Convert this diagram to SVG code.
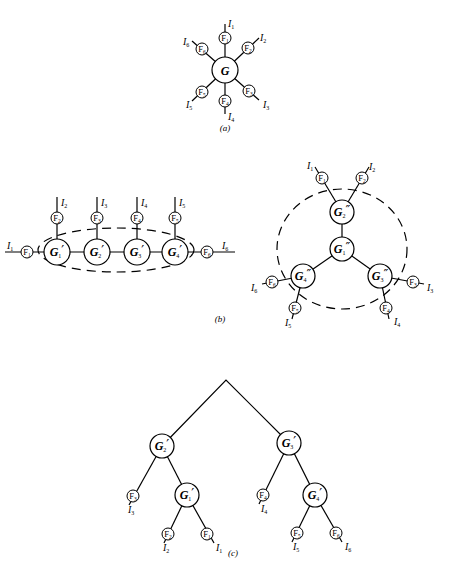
<svg xmlns="http://www.w3.org/2000/svg" width="474" height="578" viewBox="0 0 474 578">
<style>
.ln{stroke:#000;stroke-width:1.2;fill:none}
.dash{stroke:#000;stroke-width:1.2;fill:none;stroke-dasharray:9 6}
.g{fill:#fff;stroke:#000;stroke-width:1.2}
.f{fill:#fff;stroke:#000;stroke-width:1}
.gt{font-family:"Liberation Serif",serif;font-style:italic;font-weight:bold;font-size:12px;text-anchor:middle;fill:#000}
.ft{font-family:"Liberation Serif",serif;font-size:8.5px;text-anchor:middle;fill:#000}
.it{font-family:"Liberation Serif",serif;font-style:italic;font-size:10px;fill:#000}
.cap{font-family:"Liberation Serif",serif;font-style:italic;font-size:9px;text-anchor:middle;fill:#000}
.s{font-size:6px;font-style:normal;font-weight:normal}
.p{font-family:"DejaVu Sans",sans-serif;font-size:13px;font-style:normal;font-weight:normal}
.fs{font-size:5.5px}
</style>
<rect width="474" height="578" fill="#fff"/>
<g id="connectors">
<line class="ln" x1="225" y1="70" x2="225" y2="24"/>
<line class="ln" x1="225" y1="70" x2="259" y2="38"/>
<line class="ln" x1="225" y1="70" x2="259" y2="100"/>
<line class="ln" x1="225" y1="70" x2="225" y2="114"/>
<line class="ln" x1="225" y1="70" x2="192" y2="101"/>
<line class="ln" x1="225" y1="70" x2="192" y2="41"/>
<line class="ln" x1="5" y1="252" x2="235" y2="252"/>
<line class="ln" x1="57" y1="252" x2="57" y2="197"/>
<line class="ln" x1="97" y1="252" x2="97" y2="197"/>
<line class="ln" x1="137" y1="252" x2="137" y2="197"/>
<line class="ln" x1="175" y1="252" x2="175" y2="197"/>
<ellipse class="dash" cx="116" cy="250" rx="78" ry="22"/>
<line class="ln" x1="342" y1="249" x2="342" y2="212"/>
<line class="ln" x1="342" y1="249" x2="380" y2="276"/>
<line class="ln" x1="342" y1="249" x2="303" y2="276"/>
<line class="ln" x1="342" y1="212" x2="315" y2="167"/>
<line class="ln" x1="342" y1="212" x2="369" y2="167"/>
<line class="ln" x1="303" y1="276" x2="262" y2="284"/>
<line class="ln" x1="303" y1="276" x2="292" y2="319"/>
<line class="ln" x1="380" y1="276" x2="424" y2="284"/>
<line class="ln" x1="380" y1="276" x2="389" y2="319"/>
<ellipse class="dash" cx="342" cy="249" rx="65" ry="60"/>
<polyline class="ln" points="162,446 226,380 289,443"/>
<line class="ln" x1="162" y1="446" x2="129" y2="505"/>
<line class="ln" x1="162" y1="446" x2="187" y2="495"/>
<line class="ln" x1="187" y1="495" x2="164" y2="543"/>
<line class="ln" x1="187" y1="495" x2="214" y2="543"/>
<line class="ln" x1="289" y1="443" x2="259" y2="504"/>
<line class="ln" x1="289" y1="443" x2="315" y2="495"/>
<line class="ln" x1="315" y1="495" x2="292" y2="542"/>
<line class="ln" x1="315" y1="495" x2="342" y2="542"/>
</g>

<g id="a-G"><circle class="g" cx="225" cy="70" r="13"/><text class="gt" x="225" y="75">G</text></g>
<g id="a-F1"><circle class="f" cx="225" cy="38" r="6"/><text class="ft" x="225" y="41">F<tspan class="fs" dy="1.5">1</tspan></text></g>
<g id="a-F2"><circle class="f" cx="248" cy="48" r="6"/><text class="ft" x="248" y="51">F<tspan class="fs" dy="1.5">2</tspan></text></g>
<g id="a-F3"><circle class="f" cx="249" cy="91" r="6"/><text class="ft" x="249" y="94">F<tspan class="fs" dy="1.5">3</tspan></text></g>
<g id="a-F4"><circle class="f" cx="225" cy="101" r="6"/><text class="ft" x="225" y="104">F<tspan class="fs" dy="1.5">4</tspan></text></g>
<g id="a-F5"><circle class="f" cx="202" cy="92" r="6"/><text class="ft" x="202" y="95">F<tspan class="fs" dy="1.5">5</tspan></text></g>
<g id="a-F6"><circle class="f" cx="202" cy="49" r="6"/><text class="ft" x="202" y="52">F<tspan class="fs" dy="1.5">6</tspan></text></g>
<g id="a-labels">
<text class="it" x="228" y="27">I<tspan class="s" dy="2">1</tspan></text>
<text class="it" x="260" y="41">I<tspan class="s" dy="2">2</tspan></text>
<text class="it" x="263" y="108">I<tspan class="s" dy="2">3</tspan></text>
<text class="it" x="228" y="120">I<tspan class="s" dy="2">4</tspan></text>
<text class="it" x="186" y="108">I<tspan class="s" dy="2">5</tspan></text>
<text class="it" x="183" y="45">I<tspan class="s" dy="2">6</tspan></text>
<text class="cap" x="225" y="131">(a)</text>
</g>

<g id="b-G1"><circle class="g" cx="57" cy="252" r="13"/><text class="gt" x="57" y="256">G<tspan class="s" dy="2">1</tspan><tspan class="p" dy="-4">′</tspan></text></g>
<g id="b-G2"><circle class="g" cx="97" cy="252" r="13"/><text class="gt" x="97" y="256">G<tspan class="s" dy="2">2</tspan><tspan class="p" dy="-4">′</tspan></text></g>
<g id="b-G3"><circle class="g" cx="137" cy="252" r="13"/><text class="gt" x="137" y="256">G<tspan class="s" dy="2">3</tspan><tspan class="p" dy="-4">′</tspan></text></g>
<g id="b-G4"><circle class="g" cx="175" cy="252" r="13"/><text class="gt" x="175" y="256">G<tspan class="s" dy="2">4</tspan><tspan class="p" dy="-4">′</tspan></text></g>
<g id="b-F1"><circle class="f" cx="27" cy="252" r="6"/><text class="ft" x="27" y="255">F<tspan class="fs" dy="1.5">1</tspan></text></g>
<g id="b-F2"><circle class="f" cx="57" cy="218" r="6"/><text class="ft" x="57" y="221">F<tspan class="fs" dy="1.5">2</tspan></text></g>
<g id="b-F3"><circle class="f" cx="97" cy="218" r="6"/><text class="ft" x="97" y="221">F<tspan class="fs" dy="1.5">3</tspan></text></g>
<g id="b-F4"><circle class="f" cx="137" cy="218" r="6"/><text class="ft" x="137" y="221">F<tspan class="fs" dy="1.5">4</tspan></text></g>
<g id="b-F5"><circle class="f" cx="175" cy="218" r="6"/><text class="ft" x="175" y="221">F<tspan class="fs" dy="1.5">5</tspan></text></g>
<g id="b-F6"><circle class="f" cx="207" cy="252" r="6"/><text class="ft" x="207" y="255">F<tspan class="fs" dy="1.5">6</tspan></text></g>
<g id="b-left-labels">
<text class="it" x="7" y="249">I<tspan class="s" dy="2">1</tspan></text>
<text class="it" x="61" y="206">I<tspan class="s" dy="2">2</tspan></text>
<text class="it" x="101" y="206">I<tspan class="s" dy="2">3</tspan></text>
<text class="it" x="141" y="206">I<tspan class="s" dy="2">4</tspan></text>
<text class="it" x="179" y="206">I<tspan class="s" dy="2">5</tspan></text>
<text class="it" x="222" y="249">I<tspan class="s" dy="2">6</tspan></text>
<text class="cap" x="220" y="322">(b)</text>
</g>

<g id="b-H1"><circle class="g" cx="342" cy="249" r="12"/><text class="gt" x="342" y="253">G<tspan class="s" dy="2">1</tspan><tspan class="p" dy="-4">″</tspan></text></g>
<g id="b-H2"><circle class="g" cx="342" cy="212" r="12"/><text class="gt" x="342" y="216">G<tspan class="s" dy="2">2</tspan><tspan class="p" dy="-4">″</tspan></text></g>
<g id="b-H3"><circle class="g" cx="380" cy="276" r="12"/><text class="gt" x="380" y="280">G<tspan class="s" dy="2">3</tspan><tspan class="p" dy="-4">″</tspan></text></g>
<g id="b-H4"><circle class="g" cx="303" cy="276" r="12"/><text class="gt" x="303" y="280">G<tspan class="s" dy="2">4</tspan><tspan class="p" dy="-4">″</tspan></text></g>
<g id="b-HF1"><circle class="f" cx="322" cy="178" r="6"/><text class="ft" x="322" y="181">F<tspan class="fs" dy="1.5">1</tspan></text></g>
<g id="b-HF2"><circle class="f" cx="362" cy="178" r="6"/><text class="ft" x="362" y="181">F<tspan class="fs" dy="1.5">2</tspan></text></g>
<g id="b-HF3"><circle class="f" cx="413" cy="282" r="6"/><text class="ft" x="413" y="285">F<tspan class="fs" dy="1.5">3</tspan></text></g>
<g id="b-HF4"><circle class="f" cx="386" cy="308" r="6"/><text class="ft" x="386" y="311">F<tspan class="fs" dy="1.5">4</tspan></text></g>
<g id="b-HF5"><circle class="f" cx="295" cy="308" r="6"/><text class="ft" x="295" y="311">F<tspan class="fs" dy="1.5">5</tspan></text></g>
<g id="b-HF6"><circle class="f" cx="272" cy="282" r="6"/><text class="ft" x="272" y="285">F<tspan class="fs" dy="1.5">6</tspan></text></g>
<g id="b-right-labels">
<text class="it" x="307" y="169">I<tspan class="s" dy="2">1</tspan></text>
<text class="it" x="369" y="170">I<tspan class="s" dy="2">2</tspan></text>
<text class="it" x="427" y="291">I<tspan class="s" dy="2">3</tspan></text>
<text class="it" x="394" y="325">I<tspan class="s" dy="2">4</tspan></text>
<text class="it" x="285" y="326">I<tspan class="s" dy="2">5</tspan></text>
<text class="it" x="251" y="291">I<tspan class="s" dy="2">6</tspan></text>
</g>

<g id="c-G2"><circle class="g" cx="162" cy="446" r="12"/><text class="gt" x="162" y="450">G<tspan class="s" dy="2">2</tspan><tspan class="p" dy="-4">′</tspan></text></g>
<g id="c-G3"><circle class="g" cx="289" cy="443" r="12"/><text class="gt" x="289" y="447">G<tspan class="s" dy="2">3</tspan><tspan class="p" dy="-4">′</tspan></text></g>
<g id="c-G1"><circle class="g" cx="187" cy="495" r="12"/><text class="gt" x="187" y="499">G<tspan class="s" dy="2">1</tspan><tspan class="p" dy="-4">′</tspan></text></g>
<g id="c-G4"><circle class="g" cx="315" cy="495" r="12"/><text class="gt" x="315" y="499">G<tspan class="s" dy="2">4</tspan><tspan class="p" dy="-4">′</tspan></text></g>
<g id="c-F3"><circle class="f" cx="133" cy="496" r="6"/><text class="ft" x="133" y="499">F<tspan class="fs" dy="1.5">3</tspan></text></g>
<g id="c-F2"><circle class="f" cx="168" cy="534" r="6"/><text class="ft" x="168" y="537">F<tspan class="fs" dy="1.5">2</tspan></text></g>
<g id="c-F1"><circle class="f" cx="207" cy="534" r="6"/><text class="ft" x="207" y="537">F<tspan class="fs" dy="1.5">1</tspan></text></g>
<g id="c-F4"><circle class="f" cx="263" cy="495" r="6"/><text class="ft" x="263" y="498">F<tspan class="fs" dy="1.5">4</tspan></text></g>
<g id="c-F5"><circle class="f" cx="297" cy="533" r="6"/><text class="ft" x="297" y="536">F<tspan class="fs" dy="1.5">5</tspan></text></g>
<g id="c-F6"><circle class="f" cx="336" cy="533" r="6"/><text class="ft" x="336" y="536">F<tspan class="fs" dy="1.5">6</tspan></text></g>
<g id="c-labels">
<text class="it" x="128" y="513">I<tspan class="s" dy="2">3</tspan></text>
<text class="it" x="163" y="551">I<tspan class="s" dy="2">2</tspan></text>
<text class="it" x="216" y="551">I<tspan class="s" dy="2">1</tspan></text>
<text class="it" x="261" y="512">I<tspan class="s" dy="2">4</tspan></text>
<text class="it" x="293" y="550">I<tspan class="s" dy="2">5</tspan></text>
<text class="it" x="345" y="550">I<tspan class="s" dy="2">6</tspan></text>
<text class="cap" x="233" y="556">(c)</text>
</g>
</svg>
